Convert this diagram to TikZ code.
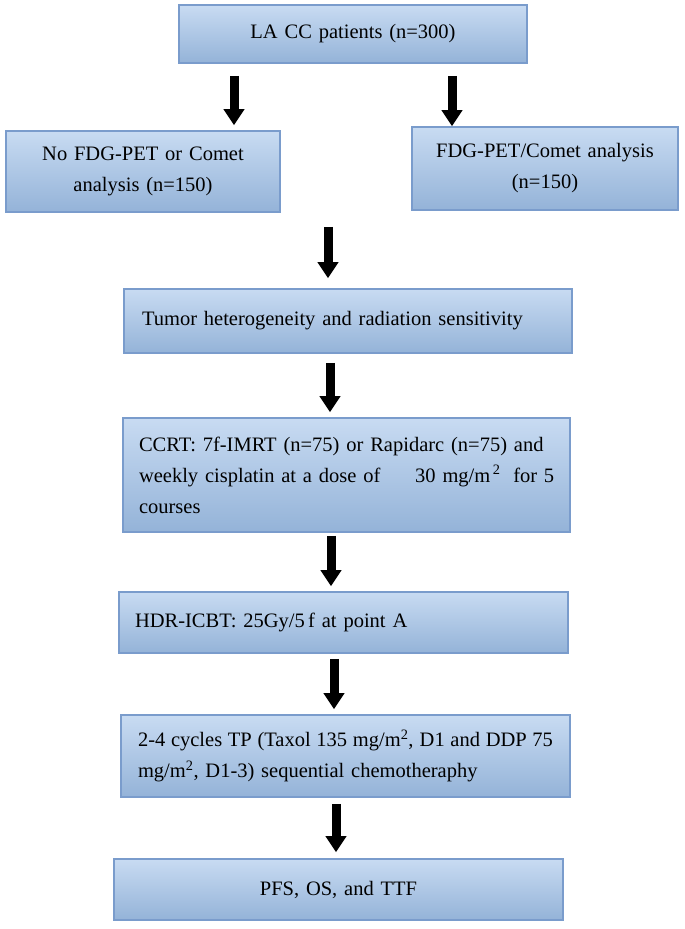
\documentclass[tikz,border=0pt]{standalone}
\usepackage{fontspec}
\setmainfont{Liberation Serif}
\usepackage{tikz}
\usetikzlibrary{arrows.meta, positioning}
\definecolor{BoxTop}{RGB}{200, 219, 242}
\definecolor{BoxBottom}{RGB}{148, 179, 216}
\definecolor{BoxEdge}{RGB}{122, 156, 204}

\begin{document}
\begin{tikzpicture}[x=1pt, y=1pt,
    flowbox/.style={draw=BoxEdge, line width=1.6pt, top color=BoxTop, bottom color=BoxBottom,
        inner xsep=16pt, inner ysep=0pt, font=\fontsize{20.5}{31}\selectfont},
    bigarrow/.style={line width=9pt, -{Triangle[length=16pt, width=20pt]}}]
        \useasboundingbox (0,0) rectangle (685,929);

        % Patients and the two groups
        \node[flowbox, minimum width=348pt, minimum height=58pt, text width=316pt, align=center] (lacc) at (353, 895) {LA CC patients (n=300)};
        \node[flowbox, minimum width=274pt, minimum height=81pt, text width=242pt, align=center] (nofdg) at (143, 757.5) {No FDG-PET or Comet\\analysis (n=150)};
        \node[flowbox, minimum width=266pt, minimum height=83pt, text width=234pt, align=center] (fdg) at (545, 760.5) {FDG-PET/Comet analysis\\(n=150)};

        % Treatment steps
        \node[flowbox, minimum width=448pt, minimum height=64pt, inner xsep=18pt, text width=412pt, align=left] (tumor) at (348, 608) {Tumor heterogeneity and radiation sensitivity};
        \node[flowbox, minimum width=447pt, minimum height=114pt, text width=415pt, align=left] (ccrt) at (346.5, 454) {\makebox[414pt][s]{CCRT: 7f-IMRT (n=75) or Rapidarc (n=75) and}\\\mbox{weekly cisplatin at a dose of\hspace{28pt} 30 mg/m\textsuperscript{\,2}\hspace{6pt} for 5}\\courses};
        \node[flowbox, minimum width=449pt, minimum height=61pt, text width=417pt, align=left] (hdr) at (343.5, 306.5) {HDR-ICBT: 25Gy/5\,f at point A};
        \node[flowbox, minimum width=449pt, minimum height=82pt, inner xsep=17pt, text width=415pt, align=left] (tp) at (345.5, 173) {{\spaceskip=.18em plus .3em minus .02em\makebox[415pt][s]{2-4 cycles TP (Taxol 135 mg/m\textsuperscript{2}, D1 and DDP 75}}\\mg/m\textsuperscript{2}, D1-3) sequential chemotheraphy};
        \node[flowbox, minimum width=449pt, minimum height=61pt, text width=417pt, align=center] (pfs) at (338.5, 39.5) {PFS, OS, and TTF};

        % Arrows
        \coordinate (splitL) at ([xshift=-119pt, yshift=-12pt]lacc.south);
        \coordinate (splitR) at ([xshift=99pt, yshift=-12pt]lacc.south);
        \coordinate (merge) at (328, 702);
        \coordinate (outU) at ([xshift=-18pt, yshift=-9pt]tumor.south);
        \coordinate (outC) at ([xshift=-15.5pt, yshift=-3pt]ccrt.south);
        \coordinate (outH) at ([xshift=-9.5pt, yshift=-5pt]hdr.south);
        \coordinate (outT) at ([xshift=-9.5pt, yshift=-6pt]tp.south);
        \draw[bigarrow, shorten >=5pt] (splitL) -- (splitL |- nofdg.north);
        \draw[bigarrow] (splitR) -- (splitR |- fdg.north);
        \draw[bigarrow, shorten >=10pt] (merge) -- (merge |- tumor.north);
        \draw[bigarrow, shorten >=5pt] (outU) -- (outU |- ccrt.north);
        \draw[bigarrow, shorten >=5pt] (outC) -- (outC |- hdr.north);
        \draw[bigarrow, shorten >=5pt] (outH) -- (outH |- tp.north);
        \draw[bigarrow, shorten >=6pt] (outT) -- (outT |- pfs.north);
    \end{tikzpicture}
\end{document}
